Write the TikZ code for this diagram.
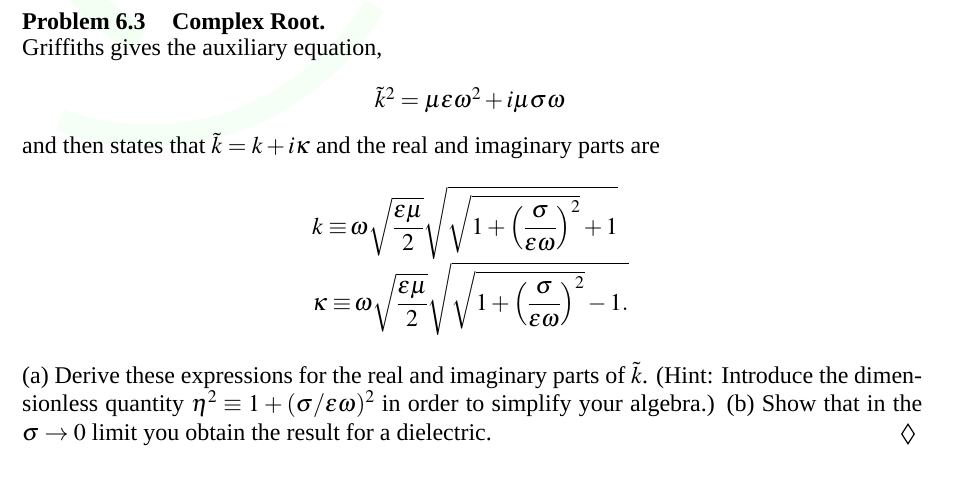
\documentclass[tikz,border=0pt]{standalone}
\usepackage{amsmath,amssymb}
\usepackage{mathptmx}
\usepackage{fontspec}
\setmainfont{Liberation Serif}
\usetikzlibrary{shapes.geometric}
\begin{document}
\begin{tikzpicture}[x=1pt,y=-1pt,
  txt/.style={anchor=base west,inner sep=0,font=\fontsize{24}{28.5}\selectfont},
  eq/.style={anchor=base,inner sep=0,font=\fontsize{24}{28}\selectfont}]
\useasboundingbox (0,0) rectangle (979,497);
\draw[green!40!white,opacity=0.12,line width=28pt] (140,40) arc[start angle=120,end angle=250,radius=240];
\draw[green!40!white,opacity=0.1,line width=22pt] (60,120) arc[start angle=110,end angle=30,radius=260];
\node[txt] (h) at (22,30) {\textbf{Problem 6.3\hspace{1.1em}Complex Root.}};
\node[txt] (l1) at (22,56) {Griffiths gives the auxiliary equation,};
\node[eq] (e1) at (470,108) {$\tilde k^2=\mu\varepsilon\omega^2+i\mu\sigma\omega$};
\node[txt] (l2) at (22,154) {and then states that $\tilde k=k+i\kappa$ and the real and imaginary parts are};
\node[eq,anchor=base west] (e2) at (312,234) {$k\equiv\!\omega\sqrt{\dfrac{\varepsilon\mu}{2}}\sqrt{\sqrt{1+\left(\dfrac{\sigma}{\varepsilon\omega}\right)^{2}}+1}$};
\node[eq,anchor=base west] (e3) at (312,310) {$\kappa\equiv\!\omega\sqrt{\dfrac{\varepsilon\mu}{2}}\sqrt{\sqrt{1+\left(\dfrac{\sigma}{\varepsilon\omega}\right)^{2}}-1.}$};
\node[txt,anchor=north west,text width=900pt,align=justify] (p) at (22,362)
 {(a) Derive these expressions for the real and imaginary parts of $\tilde k$. (Hint: Introduce the dimensionless quantity $\eta^2\equiv1+(\sigma/\varepsilon\omega)^2$ in order to simplify your algebra.) (b) Show that in the $\sigma\to0$ limit you obtain the result for a dielectric.};
\node[draw,line width=1.2pt,shape=diamond,minimum width=13pt,minimum height=20pt,inner sep=0] (d) at (908,434) {};
\end{tikzpicture}
\end{document}
